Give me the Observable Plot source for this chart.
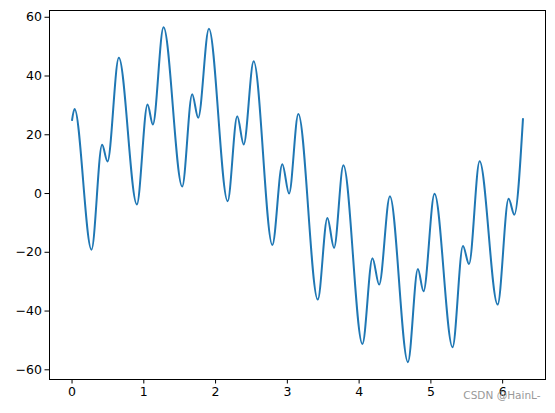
<!DOCTYPE html>
<html>
<head>
<meta charset="utf-8">
<script src="https://cdn.jsdelivr.net/npm/d3@7"></script>
<script src="https://cdn.jsdelivr.net/npm/@observablehq/plot@0.6"></script>
<style>
  html, body { margin: 0; padding: 0; background: #fff; }
</style>
</head>
<body>
<div id="chart"></div>
<script>
// Points (start, local extrema, end)
const xValues = [0, 0.035, 0.271, 0.419, 0.494, 0.652, 0.903, 1.052, 1.126, 1.275,
  1.535, 1.674, 1.758, 1.907, 2.168, 2.302, 2.392, 2.531, 2.791, 2.930,
  3.024, 3.153, 3.424, 3.558, 3.651, 3.781, 4.046, 4.186, 4.279, 4.429,
  4.680, 4.819, 4.897, 5.051, 5.302, 5.447, 5.531, 5.679, 5.930, 6.083,
  6.163, 6.283];
const yValues = [25, 28.8, -19.1, 16.6, 10.9, 46.2, -3.7, 30.3, 23.5, 56.6,
  2.4, 33.8, 25.8, 56.1, -2.6, 26.3, 16.7, 45.0, -17.5, 10.0,
  0.0, 27.1, -36.1, -8.3, -18.5, 9.6, -51.2, -22.0, -31.0, -0.9,
  -57.4, -25.7, -33.3, -0.1, -52.3, -17.9, -24.0, 11.0, -37.8, -1.8,
  -7.2, 25.4];
const xTicks = [0, 1, 2, 3, 4, 5, 6];
const yTicks = [-60, -40, -20, 0, 20, 40, 60];
const watermark = "CSDN @HainL-";

const data = xValues.map((x, i) => ({x, y: yValues[i]}));

const chart = Plot.plot({
  width: 555,
  height: 413,
  marginLeft: 49,
  marginRight: 10,
  marginTop: 10,
  marginBottom: 34,
  style: {background: "#fff", color: "#000", fontFamily: "DejaVu Sans", fontSize: "12.5px"},
  x: {domain: [-0.314, 6.597]},
  y: {domain: [-63.3, 62.3]},
  marks: [
    Plot.line(data, {x: "x", y: "y", curve: "monotone-x", stroke: "#1f77b4", strokeWidth: 2}),
    Plot.frame({stroke: "#000", strokeWidth: 1}),
    Plot.axisX({ticks: xTicks, tickSize: 4.5, tickPadding: 3, label: null, tickFormat: d3.format("d")}),
    Plot.axisY({ticks: yTicks, tickSize: 4.5, tickPadding: 3, label: null, tickFormat: d3.format("d")}),
    Plot.text([watermark], {text: d => d, frameAnchor: "bottom-right", textAnchor: "end", dx: -5, dy: 19, fill: "#999", fontSize: 10.5, fontFamily: "DejaVu Sans"})
  ]
});
document.getElementById("chart").appendChild(chart);
</script>
</body>
</html>
